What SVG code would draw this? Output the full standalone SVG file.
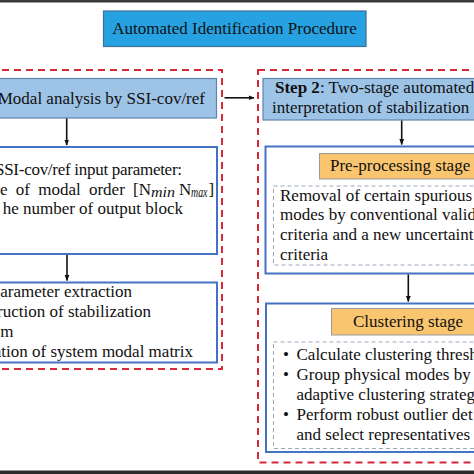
<svg xmlns="http://www.w3.org/2000/svg" width="474" height="474" viewBox="0 0 474 474">
<defs>
<style>
text{font-family:"Liberation Serif","Times New Roman",serif;font-size:17px;fill:#111}
.red{fill:none;stroke:#d42a3a;stroke-width:2;stroke-dasharray:7 5}
.blue{fill:#fff;stroke:#4472c4;stroke-width:2}
.hdr{fill:#9dc3e6;stroke:#5f84ad;stroke-width:1.2}
.org{fill:#f9c66f;stroke:#9a9a9a;stroke-width:1}
.gray{fill:none;stroke:#9aa8bb;stroke-width:1;stroke-dasharray:4 3}
.conn{stroke:#111;stroke-width:1.6;fill:none}
.sub{font-style:italic;font-size:15px}
</style>
<marker id="ah" viewBox="0 0 10 10" refX="9" refY="5" markerWidth="6" markerHeight="6" orient="auto" markerUnits="userSpaceOnUse">
<path d="M0,1 L10,5 L0,9 Z" fill="#111"/>
</marker>
</defs>
<rect x="0" y="0" width="474" height="474" fill="#fff"/>
<rect x="0" y="0" width="474" height="2.5" fill="#3a3a3a"/>
<rect x="0" y="470.5" width="474" height="3.5" fill="#2a2a2a"/>

<g id="title">
<rect x="103.5" y="11" width="262.5" height="35.5" fill="#26a2e2" stroke="#3f6f9c" stroke-width="1.2"/>
<text x="234.5" y="33.5" text-anchor="middle">Automated Identification Procedure</text>
</g>

<g id="step1">
<rect class="red" x="-10" y="70" width="232" height="299"/>
<g id="step1-header">
<rect class="hdr" x="-10" y="78.5" width="226.5" height="39.5"/>
<text x="205" y="103.5" text-anchor="end">Modal analysis by SSI-cov/ref</text>
</g>
<g id="step1-input">
<rect class="blue" x="-10" y="147" width="227" height="107"/>
<text x="-5" y="175" textLength="187" lengthAdjust="spacing">SSI-cov/ref input parameter:</text>
<text y="195"><tspan x="0" word-spacing="4">e of modal order</tspan><tspan x="133">[N</tspan><tspan class="sub" x="151" dy="2" textLength="24" lengthAdjust="spacingAndGlyphs">min</tspan><tspan x="179" dy="-2">N</tspan><tspan class="sub" x="191" dy="2" textLength="16.5" lengthAdjust="spacingAndGlyphs">max</tspan><tspan x="208.5" dy="-2">]</tspan></text>
<text x="183" y="214" text-anchor="end">he number of output block</text>
</g>
<g id="step1-extract">
<rect class="blue" x="-10" y="282.5" width="227" height="80"/>
<text x="132" y="297" text-anchor="end">arameter extraction</text>
<text x="151" y="317" text-anchor="end">ruction of stabilization</text>
<text x="13.5" y="337" text-anchor="end">m</text>
<text x="193" y="357" text-anchor="end">ation of system modal matrix</text>
</g>
</g>

<g id="step2">
<rect class="red" x="258" y="70" width="240" height="392.5"/>
<g id="step2-header">
<rect class="hdr" x="263" y="78.5" width="230" height="41.5"/>
<text x="275" y="93"><tspan font-weight="bold">Step 2</tspan>: Two-stage automated</text>
<text x="272" y="113">interpretation of stabilization</text>
</g>
<g id="preprocessing">
<rect class="blue" x="265.5" y="146.5" width="230" height="127"/>
<rect class="org" x="319.5" y="153.5" width="170" height="25.5"/>
<text x="330" y="170.5">Pre-processing stage</text>
<rect class="gray" x="273.5" y="186" width="215" height="79"/>
<text x="280" y="200.5">Removal of certain spurious</text>
<text x="280" y="220">modes by conventional valid</text>
<text x="280" y="240">criteria and a new uncertaint</text>
<text x="280" y="259.5">criteria</text>
</g>
<g id="clustering">
<rect class="blue" x="266" y="303.5" width="230" height="148.5"/>
<rect class="org" x="331.5" y="308.5" width="160" height="26.5"/>
<text x="353" y="327">Clustering stage</text>
<rect class="gray" x="273.5" y="342" width="215" height="106.5"/>
<text x="283" y="359.5">•</text>
<text x="296.5" y="359.5">Calculate clustering thresh</text>
<text x="283" y="379.5">•</text>
<text x="296.5" y="379.5">Group physical modes by</text>
<text x="296.5" y="400">adaptive clustering strateg</text>
<text x="283" y="420">•</text>
<text x="296.5" y="420">Perform robust outlier det</text>
<text x="296.5" y="440">and select representatives</text>
</g>
</g>

<g id="connectors">
<line class="conn" x1="66.7" y1="118.5" x2="66.7" y2="145" marker-end="url(#ah)"/>
<line class="conn" x1="67" y1="255" x2="67" y2="280.5" marker-end="url(#ah)"/>
<line class="conn" x1="224.5" y1="97.8" x2="254" y2="97.8" marker-end="url(#ah)"/>
<line class="conn" x1="401.7" y1="120.5" x2="401.7" y2="144.5" marker-end="url(#ah)"/>
<line class="conn" x1="408.3" y1="274.5" x2="408.3" y2="301.5" marker-end="url(#ah)"/>
</g>
</svg>
